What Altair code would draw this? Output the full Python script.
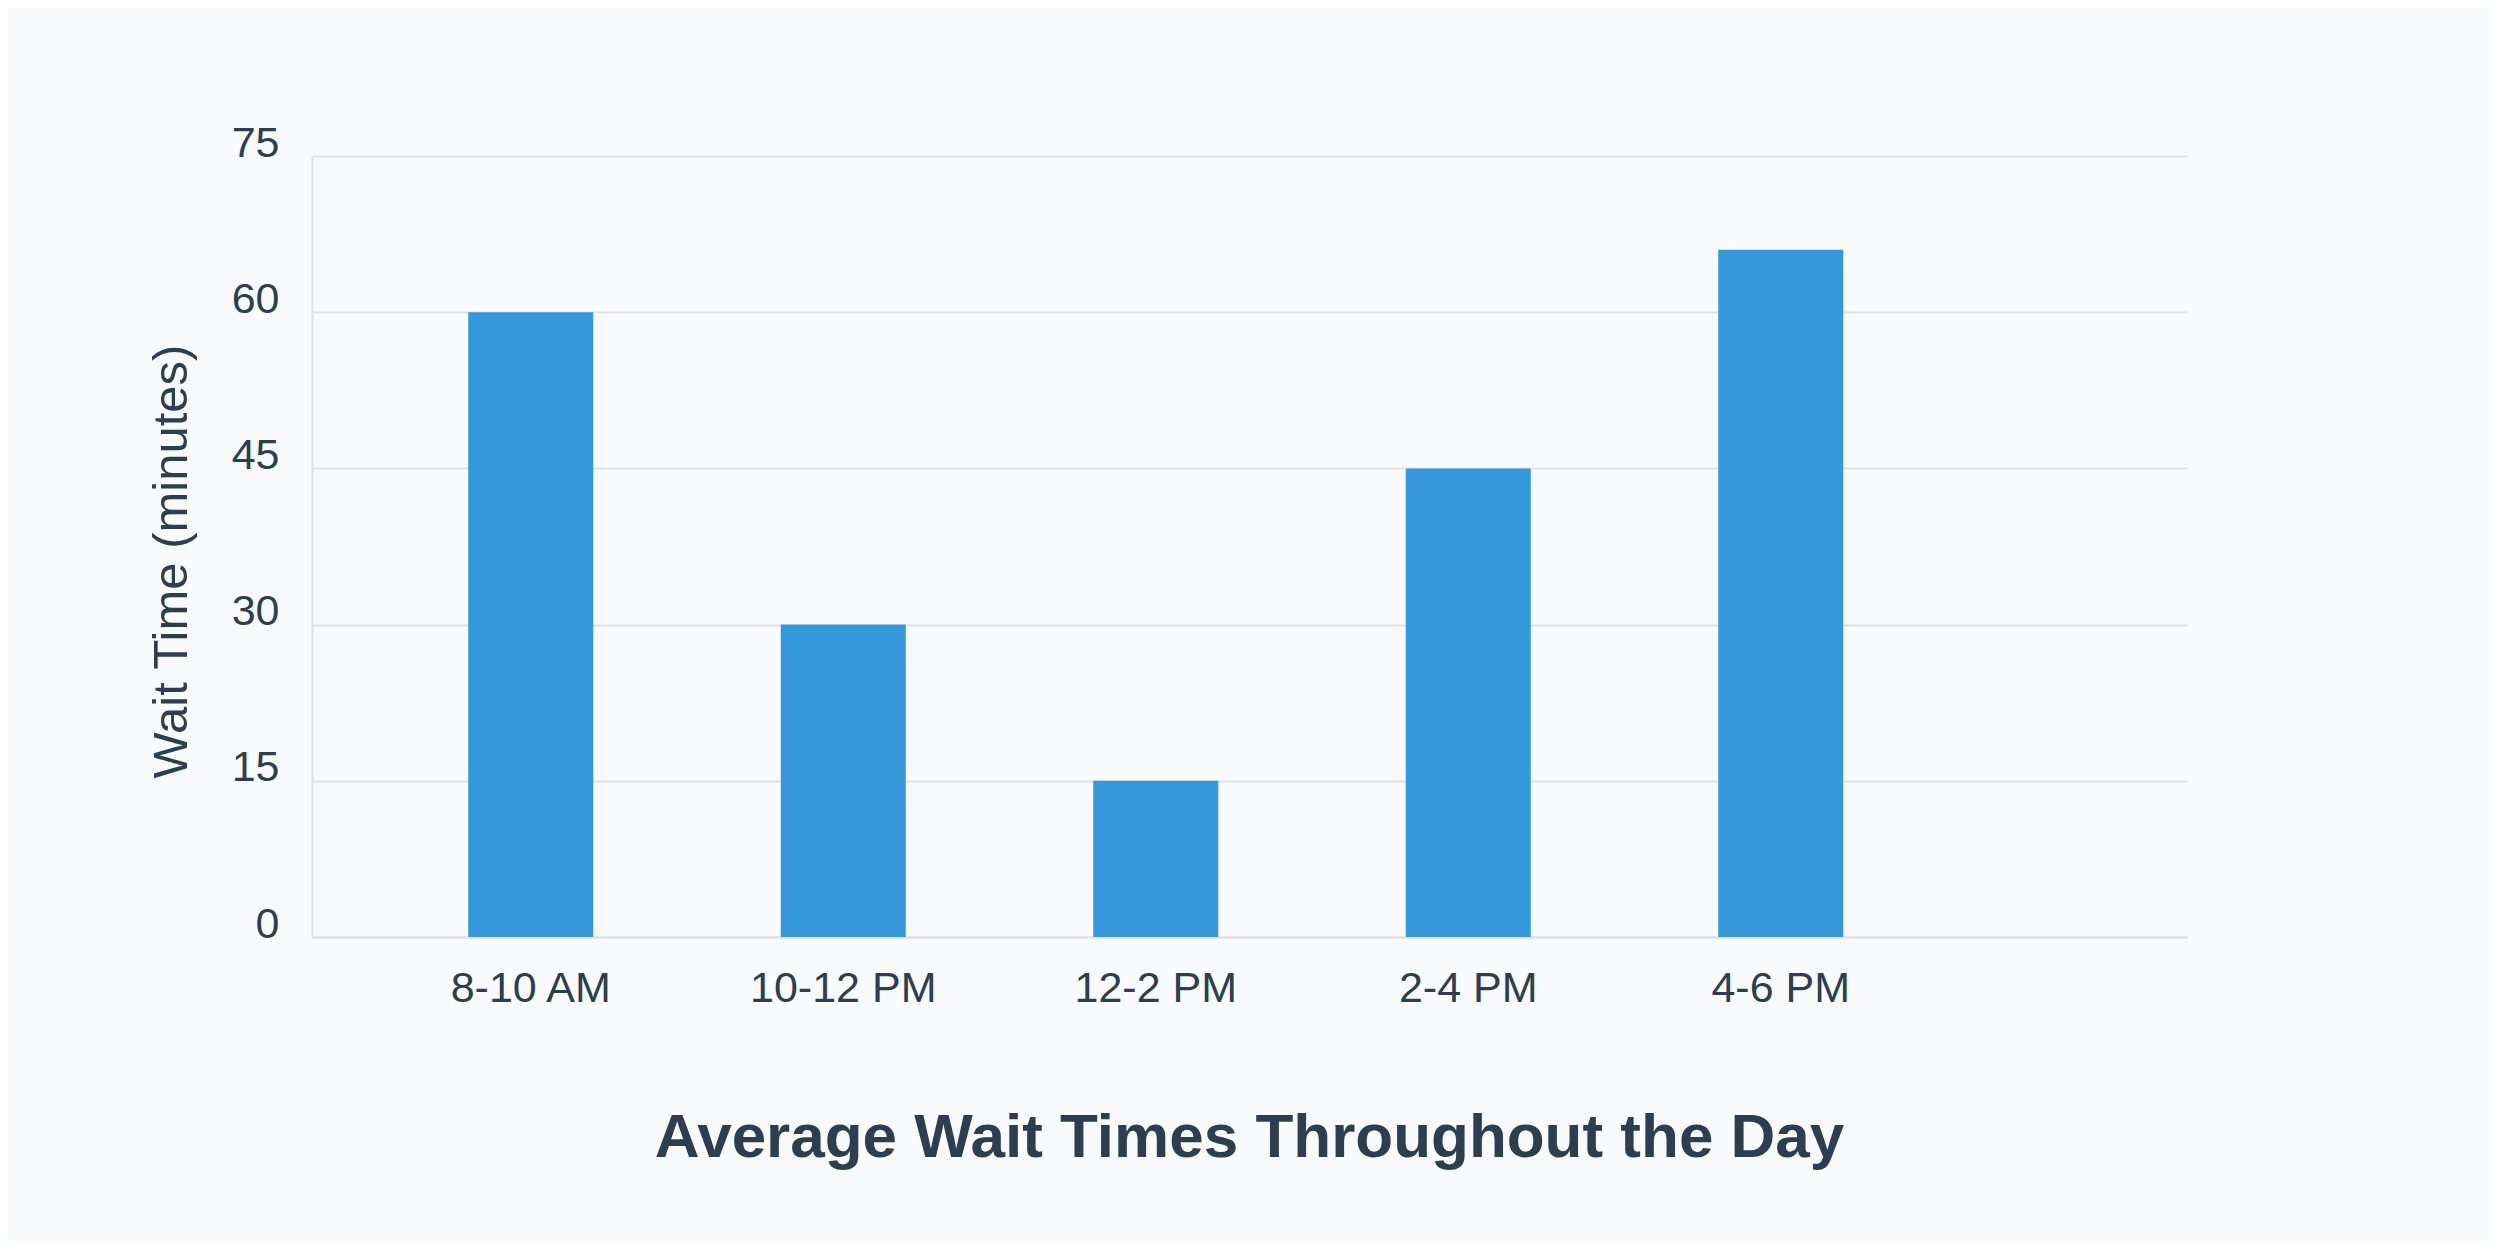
import altair as alt
import pandas as pd

categories = ["8-10 AM", "10-12 PM", "12-2 PM", "2-4 PM", "4-6 PM"]
wait_minutes = [60, 30, 15, 45, 66]
y_ticks = [0, 15, 30, 45, 60, 75]

df = pd.DataFrame({"slot": categories, "wait": wait_minutes})

TEXT = "#2c3e50"
GRID = "#dfe2e5"
BG = "#f8fafc"

chart = (
    alt.Chart(df)
    .mark_bar(color="#3498db")
    .encode(
        x=alt.X(
            "slot:N",
            sort=categories,
            scale=alt.Scale(paddingInner=0.6, paddingOuter=0.8, align=0.3125),
            axis=alt.Axis(
                title=None,
                labelAngle=0,
                labelFont="Liberation Sans",
                labelFontSize=43,
                labelColor=TEXT,
                labelPadding=30,
                labelLimit=0,
                ticks=False,
                domainColor=GRID,
                domainWidth=2,
                grid=False,
            ),
        ),
        y=alt.Y(
            "wait:Q",
            scale=alt.Scale(domain=[0, 75], nice=False),
            axis=alt.Axis(
                title="Wait Time (minutes)",
                values=y_ticks,
                labelFont="Liberation Sans",
                labelFontSize=43,
                labelColor=TEXT,
                labelPadding=33,
                labelBaseline="alphabetic",
                ticks=False,
                domainColor=GRID,
                domainWidth=2,
                gridColor=GRID,
                gridWidth=2,
                titleFont="Liberation Sans",
                titleFontSize=49,
                titleFontWeight="normal",
                titleColor=TEXT,
                titlePadding=35,
                titleY=405,
            ),
        ),
    )
    .properties(
        width=1875,
        height=781,
        background=BG,
        padding={"left": 304, "top": 148, "right": 305, "bottom": 305},
        autosize=alt.AutoSizeParams(type="none"),
        title=alt.TitleParams(
            "Average Wait Times Throughout the Day",
            orient="bottom",
            anchor="middle",
            font="Liberation Sans",
            fontSize=62,
            fontWeight="bold",
            color=TEXT,
            offset=98,
        ),
    )
    .configure_view(stroke=None)
)

chart.save("out.html", embed_options={"renderer": "svg", "actions": False})
